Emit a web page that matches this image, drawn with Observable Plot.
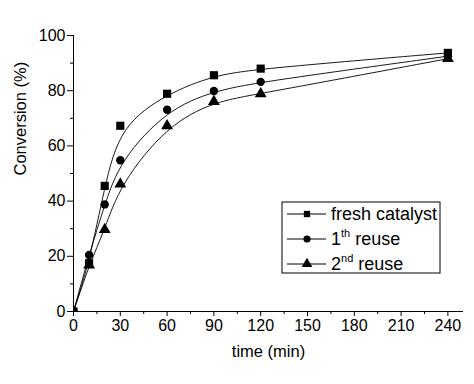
<!DOCTYPE html>
<html>
<head>
<meta charset="utf-8">
<script src="https://cdn.jsdelivr.net/npm/d3@7"></script>
<script src="https://cdn.jsdelivr.net/npm/@observablehq/plot@0.6"></script>
<style>
  body { margin: 0; background: #fff; }
  svg { font-family: "Liberation Sans", Arial, sans-serif; }
</style>
</head>
<body>
<div id="chart"></div>
<script>
const times = [0, 10, 20, 30, 60, 90, 120, 240];
const fresh = [0, 17.5, 45.5, 67.3, 78.9, 85.6, 88.0, 93.7];
const reuse1 = [0, 20.5, 38.8, 54.8, 73.1, 79.9, 83.2, 92.5];
const reuse2 = [0, 16.8, 29.7, 46.2, 67.3, 76.1, 78.9, 91.6];
const seriesNames = ["fresh catalyst", "1th reuse", "2nd reuse"];
const symbols = ["square", "circle", "triangle"];
const xTicks = [0, 30, 60, 90, 120, 150, 180, 210, 240];
const xMinor = [15, 45, 75, 105, 135, 165, 195, 225];
const yTicks = [0, 20, 40, 60, 80, 100];
const yMinor = [10, 30, 50, 70, 90];

const allSeries = [fresh, reuse1, reuse2];
const data = [];
allSeries.forEach((vals, si) => {
  vals.forEach((v, i) => data.push({series: seriesNames[si], sym: symbols[si], t: times[i], v}));
});
const sizes = {square: 4.6, circle: 4.2, triangle: 4.4};

const chart = Plot.plot({
  width: 474,
  height: 384,
  marginLeft: 73,
  marginRight: 11,
  marginTop: 35,
  marginBottom: 73,
  style: {fontFamily: "'Liberation Sans', Arial, sans-serif", fontSize: "16px", color: "#000", background: "#fff"},
  x: {domain: [0, 250]},
  y: {domain: [0, 100]},
  marks: [
    Plot.axisX({ticks: xTicks, tickSize: 5, tickPadding: 3, fontSize: 16, label: null, stroke: "#000"}),
    Plot.axisX({ticks: xMinor, tickSize: 3, tickFormat: () => "", label: null, stroke: "#000"}),
    Plot.axisY({ticks: yTicks, tickSize: 6, tickPadding: 2, fontSize: 16, label: null, stroke: "#000"}),
    Plot.axisY({ticks: yMinor, tickSize: 3, tickFormat: () => "", label: null, stroke: "#000"}),
    Plot.line(data, {x: "t", y: "v", z: "series", curve: "basis", stroke: "#000", strokeWidth: 0.9}),
    ...symbols.map(s => Plot.dot(data.filter(d => d.sym === s), {x: "t", y: "v", symbol: () => s, r: sizes[s], fill: "#000", stroke: "none", clip: true})),
    Plot.ruleY([0], {stroke: "#000", strokeWidth: 1}),
    Plot.ruleX([0], {stroke: "#000", strokeWidth: 1}),
    Plot.text(["time (min)"], {frameAnchor: "bottom", dy: 45, fontSize: 16.5, fill: "#000"}),
    Plot.text(["Conversion (%)"], {frameAnchor: "left", dx: -53, dy: 2, rotate: -90, fontSize: 16.5, fill: "#000"})
  ]
});
document.getElementById("chart").appendChild(chart);

// legend inside plot area
const svg = d3.select(chart);
const lg = svg.append("g").attr("text-anchor", "start");
lg.append("rect").attr("x", 282).attr("y", 202).attr("width", 158).attr("height", 71)
  .attr("fill", "#fff").attr("stroke", "#000").attr("stroke-width", 1);
const rowsY = [214, 239, 264];
const labels = [["fresh catalyst", null, ""], ["1", "th", " reuse"], ["2", "nd", " reuse"]];
const legSym = [d3.symbolSquare, d3.symbolCircle, d3.symbolTriangle];
rowsY.forEach((y, i) => {
  lg.append("line").attr("x1", 287).attr("x2", 326).attr("y1", y).attr("y2", y).attr("stroke", "#000");
  lg.append("path").attr("d", d3.symbol(legSym[i], i === 2 ? 50 : 40)()).attr("transform", `translate(307,${y})`).attr("fill", "#000");
  const t = lg.append("text").attr("x", 331).attr("y", y + 6).attr("font-size", 18).attr("fill", "#000").attr("text-anchor", "start");
  t.append("tspan").text(labels[i][0]);
  if (labels[i][1]) {
    t.append("tspan").attr("font-size", 11).attr("dy", -8).text(labels[i][1]);
    t.append("tspan").attr("dy", 8).text(labels[i][2]);
  }
});
</script>
</body>
</html>
